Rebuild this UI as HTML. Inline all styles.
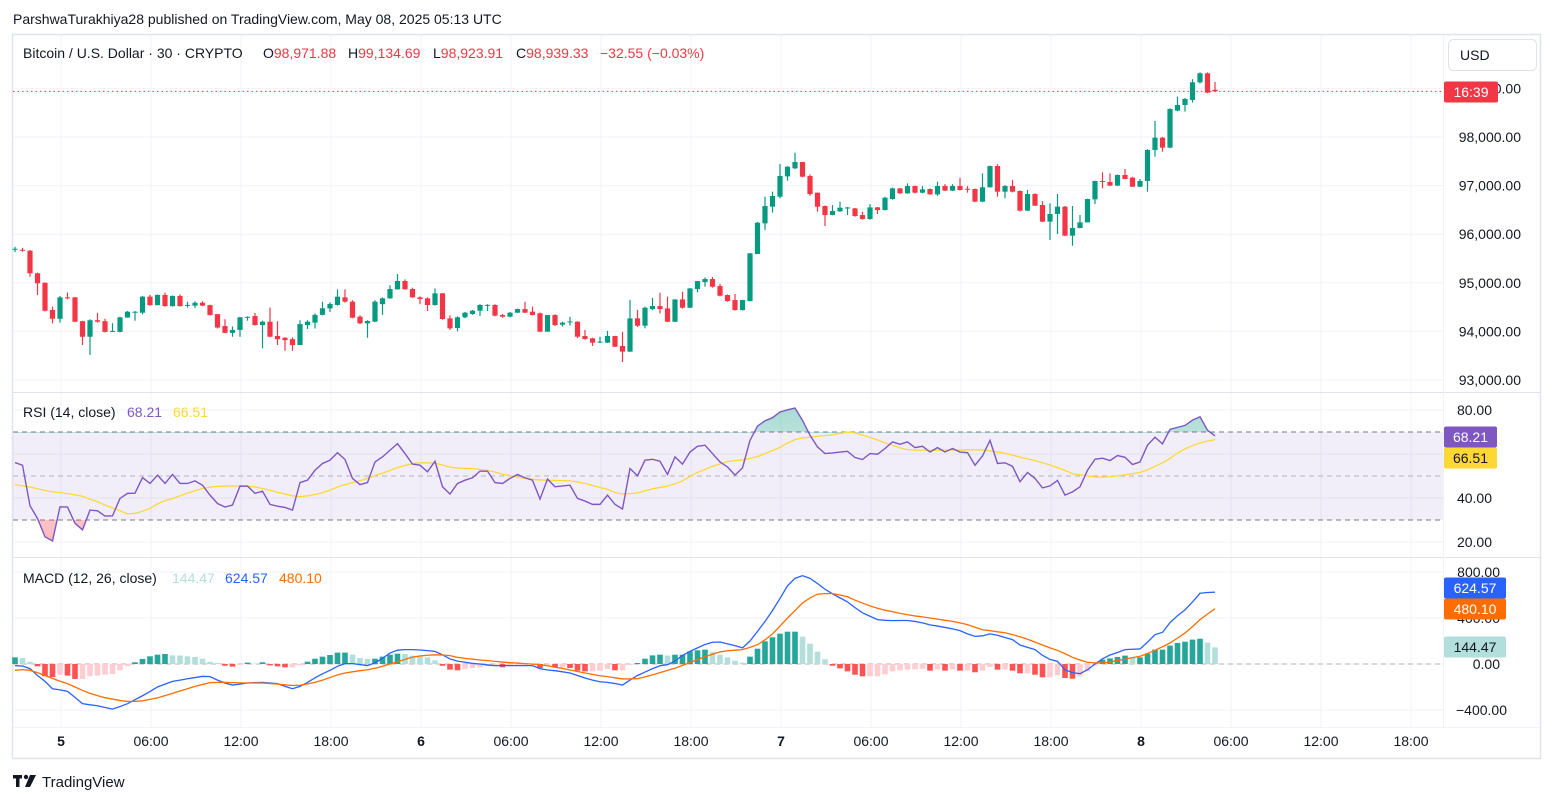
<!DOCTYPE html>
<html><head><meta charset="utf-8">
<style>
html,body{margin:0;padding:0;background:#fff;}
svg{display:block;font-family:"Liberation Sans",sans-serif;}
</style></head>
<body>
<svg id="chart" width="1553" height="803" viewBox="0 0 1553 803" xmlns="http://www.w3.org/2000/svg">
<defs>
<linearGradient id="obGrad" x1="0" y1="0" x2="0" y2="1"><stop offset="0" stop-color="#089981" stop-opacity="0.35"/><stop offset="1" stop-color="#089981" stop-opacity="0"/></linearGradient>
<linearGradient id="osGrad" x1="0" y1="1" x2="0" y2="0"><stop offset="0" stop-color="#f23645" stop-opacity="0.35"/><stop offset="1" stop-color="#f23645" stop-opacity="0"/></linearGradient>
<clipPath id="clipOB"><rect x="12" y="393" width="1431" height="39.8"/></clipPath>
<clipPath id="clipOS"><rect x="12" y="520" width="1431" height="37"/></clipPath>
</defs>
<text x="13" y="24" font-size="14" fill="#131722">ParshwaTurakhiya28 published on TradingView.com, May 08, 2025 05:13 UTC</text>
<rect x="12.5" y="34.5" width="1528" height="724" fill="none" stroke="#e0e3eb" stroke-width="1.5"/>
<g id="grid"></g>
<rect x="13" y="432" width="1430" height="88" fill="#7e57c2" fill-opacity="0.1"/>
<g id="rsiLevels"></g>
<g id="candles"></g>
<g id="rsi"></g>
<g id="macd"></g>
<line x1="13" y1="392.5" x2="1540" y2="392.5" stroke="#e0e3eb"/>
<line x1="13" y1="557.5" x2="1540" y2="557.5" stroke="#e0e3eb"/>
<line x1="13" y1="727.5" x2="1540" y2="727.5" stroke="#f0f3fa"/>
<line x1="1443.5" y1="35" x2="1443.5" y2="728" stroke="#f0f3fa"/>
<g id="axes"></g>
<g font-size="14">
<text x="23" y="58" fill="#131722">Bitcoin / U.S. Dollar · 30 · CRYPTO</text>
<text x="263" y="58" fill="#131722">O<tspan fill="#f23645">98,971.88</tspan></text>
<text x="348" y="58" fill="#131722">H<tspan fill="#f23645">99,134.69</tspan></text>
<text x="433" y="58" fill="#131722">L<tspan fill="#f23645">98,923.91</tspan></text>
<text x="516" y="58" fill="#131722">C<tspan fill="#f23645">98,939.33</tspan></text>
<text x="600" y="58" fill="#f23645">−32.55 (−0.03%)</text>
</g>
<g font-size="14">
<text x="23" y="417" fill="#131722">RSI (14, close)</text>
<text x="127" y="417" fill="#7e57c2">68.21</text>
<text x="173" y="417" fill="#fdd835">66.51</text>
</g>
<g font-size="14">
<text x="23" y="583" fill="#131722">MACD (12, 26, close)</text>
<text x="172" y="583" fill="#b2dfdb">144.47</text>
<text x="225" y="583" fill="#2962ff">624.57</text>
<text x="279" y="583" fill="#ff6d00">480.10</text>
</g>
<rect x="1448.5" y="39.5" width="88" height="31" rx="5" fill="#fff" stroke="#e0e3eb"/>
<text x="1460" y="60" font-size="14" fill="#131722">USD</text>
<g>
<rect x="13" y="775" width="9" height="3.5" fill="#131722"/>
<rect x="16" y="775" width="3.5" height="12" fill="#131722"/>
<circle cx="26" cy="777" r="2.2" fill="#131722"/>
<polygon points="30,775 36,775 30,787 25,787" fill="#131722"/>
<text x="42" y="787" font-size="15" fill="#131722">TradingView</text>
</g>
</svg>
<script>
const opens=[95690,95680,95660,95195,95000,94440,94260,94700,94700,94210,93890,94230,94210,94000,93990,94285,94400,94385,94715,94540,94750,94520,94730,94540,94530,94590,94540,94355,94110,93970,94030,94290,94315,94130,94200,93905,93870,93840,93720,94130,94180,94340,94474,94543,94700,94612,94303,94166,94200,94560,94680,94865,95037,94872,94700,94680,94543,94783,94268,94070,94290,94358,94426,94543,94543,94337,94303,94385,94460,94406,94372,93994,94337,94138,94200,94200,93905,93857,93788,93768,93905,93700,93583,94268,94117,94460,94522,94473,94199,94658,94487,94871,95014,95077,94933,94748,94645,94439,94624,95592,96223,96566,96772,97190,97355,97485,97197,96854,96580,96394,96470,96545,96531,96394,96312,96552,96497,96724,96943,96840,96991,96854,96930,96820,96992,96896,96992,96935,96930,96670,96965,97403,96875,96992,96889,96484,96827,96601,96258,96416,96567,95970,96128,96244,96717,97095,97075,97000,97218,97163,96978,97095,97733,97986,97781,98543,98659,98762,99125,99311,98971];
const closes=[95700,95675,95195,94990,94425,94260,94700,94690,94200,93890,94230,94200,93990,94010,94290,94405,94405,94715,94540,94750,94520,94730,94520,94545,94590,94530,94335,94080,93970,94030,94290,94300,94130,94200,93890,93840,93820,93720,94150,94200,94340,94475,94563,94714,94612,94282,94166,94214,94612,94680,94872,95037,94865,94700,94666,94543,94783,94255,94063,94290,94385,94426,94543,94545,94324,94303,94385,94460,94385,94337,93994,94337,94131,94180,94205,93891,93843,93768,93790,93905,93685,93583,94268,94117,94487,94522,94460,94199,94658,94487,94885,95036,95077,94919,94734,94624,94439,94645,95606,96237,96580,96786,97197,97389,97485,97183,96827,96566,96394,96477,96545,96550,96374,96312,96552,96497,96751,96943,96840,96991,96854,96922,96820,96992,96896,96992,96910,96930,96670,96965,97403,96875,96992,96875,96484,96827,96587,96258,96416,96567,95970,96128,96244,96724,97095,97075,97000,97218,97136,96978,97095,97733,97986,97781,98577,98659,98782,99125,99311,98913,98939];
const highs=[95740,95720,95675,95210,95010,94510,94730,94800,94710,94220,94250,94380,94260,94170,94300,94420,94420,94730,94750,94760,94800,94740,94760,94610,94620,94620,94550,94360,94250,94100,94300,94310,94380,94220,94490,94210,93880,93880,94230,94230,94370,94610,94600,94865,94865,94640,94330,94230,94640,94700,94950,95180,95070,94900,94720,94700,94885,94790,94330,94310,94400,94440,94560,94560,94560,94360,94400,94470,94610,94510,94390,94340,94350,94200,94300,94210,94030,93870,93890,94010,93910,93990,94650,94440,94508,94690,94795,94714,94660,94817,94890,95040,95110,95120,94980,94760,94770,94650,95610,96250,96772,96875,97444,97400,97677,97490,97230,96860,96590,96600,96670,96560,96540,96463,96621,96560,96770,96960,96950,97046,97000,96990,96940,97080,97030,97030,97160,96990,96940,97252,97410,97440,97010,97115,96900,96910,96840,96680,96635,96827,96580,96580,96395,96730,97100,97273,97253,97230,97342,97180,97136,97750,98330,98000,98590,98830,98800,99190,99330,99330,99135];
const lows=[95630,95640,95125,94750,94410,94165,94180,94660,94190,93720,93515,94180,93980,93990,93980,94280,94220,94350,94530,94540,94510,94510,94510,94490,94480,94520,94330,94060,93960,93890,93890,94220,94120,93650,93880,93720,93600,93600,93720,94050,94060,94330,94400,94530,94590,94270,94150,93870,94190,94340,94670,94860,94860,94690,94560,94420,94530,94240,94030,94000,94270,94340,94320,94420,94310,94280,94290,94380,94380,94330,93990,93990,94110,94100,94120,93860,93830,93700,93760,93760,93680,93370,93580,94090,94063,94440,94371,94190,94190,94470,94480,94803,94920,94900,94720,94610,94430,94430,94620,95590,96086,96443,96738,97101,97340,97170,96790,96463,96168,96390,96460,96395,96360,96300,96300,96415,96490,96710,96830,96830,96840,96840,96810,96790,96890,96890,96900,96855,96660,96660,96960,96772,96738,96860,96470,96480,96580,96250,95880,96004,95960,95764,96120,96240,96621,96944,96990,96990,97130,96970,96970,96875,97596,97698,97770,98530,98522,98707,99100,98900,98924];
const rsiValues=[56.1,54.9,36.5,30.7,22.4,20.5,36,35.9,28.5,25.5,34.5,34.2,31.8,31.9,39.8,42.1,42.2,49.3,46.6,50.4,46.6,50.7,46.6,46.6,47.8,45.8,41.3,37.5,35.9,36.8,45.4,45.4,42.1,43.1,37.1,36.3,35.7,34.5,47,48.1,52.6,55.7,57.2,60.6,57.5,48.9,46.1,47,56.4,58.7,61.7,64.7,60.2,55.4,54.9,51.9,56.7,45.1,41.8,46.6,48.1,49.2,52.2,52.2,47,46.6,48.9,50.7,49.2,48.1,39.5,48.6,45.1,45.5,45.8,39.8,38.6,37.1,37.1,41.3,37.1,35,53.4,50.1,57.2,57.6,56.7,50.7,58.7,55.4,60.9,63.5,64,60.2,56.4,54.1,50.4,53.7,66.2,72.7,75.1,76.5,79.1,80.1,80.9,75.3,68.5,63.2,60.2,60.5,60.9,61.2,58.4,57.5,60.2,59.9,62.5,65.5,64.4,65.5,62.9,63.5,60.9,62.9,60.9,62.5,60.9,60.6,54.9,59.1,66.2,55.7,56,54.4,47.4,51.6,48.9,44.6,45.5,48,41.3,42.8,45.1,52.6,57.6,58.1,57,59.3,58.5,55.2,56.4,64,67.6,64.6,71.2,72.1,73,75.4,76.9,70.8,68.21];
const rsiSignal=[46.1,45.5,45,44.2,43.4,42.8,42.5,42,41.4,40.8,39.5,38.3,36.8,35.5,34.2,32.8,33,34,35.3,37.3,38.8,39.7,41,42.2,43.3,44.3,44.9,45.3,45.4,45.5,45.4,45.4,45,44.3,43.5,42.6,41.8,41,40.6,41,41.6,42.4,43.6,45,46.1,47,47.8,49,50.2,51.3,52.5,53.8,54.8,55.6,56,56,55.8,55,54,53.6,53.4,53.4,53,52.5,51.8,50.8,50.1,49.5,48.9,48.5,48.2,48.1,48,47.9,47.8,47.3,46.6,45.7,44.8,44,42.5,41.8,42,42.3,43.3,44.2,44.8,45.4,46.4,47.8,49.8,51.6,53,54.4,55.5,56.6,57,57.3,58,58.8,60.2,61.6,63,65,66.6,67.3,67.6,68,68.4,68.7,69.4,70,69.6,68.6,67.5,66.4,65,64,62.8,62,61.8,61.7,61.7,61.7,61.8,61.8,61.8,61.9,61.9,61.8,61.4,60.9,60.3,59.5,58.6,57.8,57,56,55,53.8,52.5,51.1,50.5,50,49.6,49.5,49.7,50,50.5,51.1,51.6,52.8,54.4,56,58,60.5,62.3,63.9,65,65.9,66.51];
const macdLine=[-14,-18,-40,-100,-151,-215,-225,-238,-290,-345,-355,-363,-378,-392,-370,-345,-310,-276,-240,-200,-175,-151,-140,-128,-118,-107,-110,-140,-165,-183,-175,-165,-162,-160,-165,-171,-195,-215,-195,-160,-120,-85,-55,-20,3,3,-5,-14,10,50,95,120,125,125,122,116,110,80,44,25,15,5,0,-8,-14,-14,-14,-14,-14,-14,-40,-52,-58,-68,-78,-100,-122,-140,-154,-160,-170,-183,-140,-100,-70,-40,-15,-6,25,75,110,140,170,189,191,175,160,140,200,284,370,465,570,680,745,768,745,700,650,610,575,540,490,445,415,386,380,377,378,378,370,358,340,330,318,305,290,262,240,245,262,250,230,212,165,145,125,75,40,23,-50,-75,-84,-50,0,45,78,100,125,128,131,190,255,275,360,420,470,540,615,622,624.57];
const signalLine=[-55,-49,-55,-75,-100,-125,-150,-171,-200,-230,-255,-275,-293,-305,-318,-325,-325,-320,-308,-295,-275,-255,-235,-215,-195,-178,-162,-160,-160,-162,-164,-165,-165,-165,-170,-175,-181,-187,-185,-173,-160,-140,-118,-95,-78,-68,-58,-50,-37,-20,0,20,40,60,70,76,80,78,73,58,49,42,35,29,23,17,12,8,3,-1,-5,-15,-28,-38,-52,-65,-78,-90,-102,-110,-120,-130,-130,-128,-112,-95,-75,-55,-37,-12,12,38,63,85,105,115,120,125,145,168,210,262,330,400,465,530,575,608,612,612,600,585,555,530,505,485,467,455,440,428,418,410,400,390,380,371,358,342,320,298,290,280,272,255,237,215,190,165,140,118,90,58,35,15,10,9,18,30,42,55,67,92,119,150,183,225,270,325,386,435,480.10];
const histValues=[58,52,20,-20,-107,-113,-93,-101,-130,-130,-107,-101,-93,-87,-55,-20,15,44,67,81,87,75,73,67,61,46,20,9,-15,-23,-9,12,3,15,-12,-20,-29,-29,-12,20,46,64,78,99,99,81,52,44,46,64,81,90,87,73,67,58,32,-15,-49,-55,-43,-35,-29,-20,-20,-29,-20,-15,-15,-6,-35,-20,-29,-29,-35,-58,-64,-64,-58,-43,-55,-55,-9,9,46,75,81,73,81,81,110,119,125,104,81,58,29,12,64,133,197,232,264,281,281,238,177,107,41,-15,-38,-64,-93,-107,-107,-107,-90,-64,-55,-49,-46,-43,-58,-49,-58,-49,-58,-58,-72,-58,-26,-49,-49,-58,-81,-81,-93,-116,-116,-99,-122,-128,-107,-64,-15,38,49,61,73,58,58,90,125,125,160,183,194,212,220,186,144.47];
const priceTicks=[93000,94000,95000,96000,97000,98000,99000];
const rsiTicks=[20,40,80];
const macdTicks=[-400,0,400,800];
const timeLabels=["5","06:00","12:00","18:00","6","06:00","12:00","18:00","7","06:00","12:00","18:00","8","06:00","12:00","18:00"];
const boldTime=["5","6","7","8"];

const NS="http://www.w3.org/2000/svg";
function mk(tag,attrs,parent){const e=document.createElementNS(NS,tag);for(const k in attrs)e.setAttribute(k,attrs[k]);parent.appendChild(e);return e;}
const xOf=i=>15+7.5*i;
const yPrice=p=>137-(p-98000)*0.0486;
const yRsi=v=>410+(80-v)*2.2;
const yMacd=v=>664-v*0.115;
const timeX=k=>61+90*k;

const grid=document.getElementById('grid');
const axes=document.getElementById('axes');
timeLabels.forEach((t,k)=>{
  const l=mk('line',{x1:timeX(k),x2:timeX(k),y1:35,y2:727,stroke:'#f0f3fa'},grid);
  
  
  const tx=mk('text',{x:timeX(k),y:746,'font-size':14,fill:'#131722','text-anchor':'middle','font-weight':boldTime.includes(t)?'bold':'normal'},axes);
  tx.textContent=t;
  
  
});
priceTicks.forEach(p=>{
  const y=yPrice(p);
  const l=mk('line',{x1:13,x2:1443,y1:y,y2:y,stroke:'#f0f3fa'},grid);
  
  
  const tx=mk('text',{x:1521,y:y+5,'font-size':14,fill:'#131722','text-anchor':'end'},axes);
  tx.textContent=p.toLocaleString('en-US',{minimumFractionDigits:2});
  
  
});
rsiTicks.concat([60]).forEach(v=>{
  const y=yRsi(v);
  const l=mk('line',{x1:13,x2:1443,y1:y,y2:y,stroke:'#f0f3fa'},grid);
  
  
});
rsiTicks.forEach(v=>{
  const tx=mk('text',{x:1492,y:yRsi(v)+5,'font-size':14,fill:'#131722','text-anchor':'end'},axes);
  tx.textContent=v.toFixed(2);
  
  
});
macdTicks.forEach(v=>{
  const y=yMacd(v);
  const l=mk('line',{x1:13,x2:1443,y1:y,y2:y,stroke:'#f0f3fa'},grid);
  
  
  const tx=mk('text',{x:v<0?1507:1500,y:y+5,'font-size':14,fill:'#131722','text-anchor':'end'},axes);
  tx.textContent=(v<0?'−':'')+Math.abs(v).toFixed(2);
  
  
});
const lv=document.getElementById('rsiLevels');
[[70,'#787b86'],[50,'#b2b5be'],[30,'#787b86']].forEach(([v,c])=>{
  const y=yRsi(v);
  const l=mk('line',{x1:13,x2:1443,y1:y,y2:y,stroke:c,'stroke-dasharray':'5,4'},lv);
  
  
});
const z=mk('line',{x1:13,x2:1443,y1:yMacd(0),y2:yMacd(0),stroke:'#b2b5be','stroke-dasharray':'5,4'},grid);



const cy=yPrice(closes[closes.length-1]);
const pl=mk('line',{x1:13,x2:1443,y1:cy,y2:cy,stroke:'#f23645','stroke-dasharray':'1.5,3'},axes);



const cg=document.getElementById('candles');
closes.forEach((c,i)=>{
  const o=opens[i],x=xOf(i),up=c>=o,col=up?'#089981':'#f23645';
  const w=mk('line',{x1:x,x2:x,y1:yPrice(highs[i]),y2:yPrice(lows[i]),stroke:col,'stroke-width':1.2},cg);
  
  
  const top=yPrice(Math.max(o,c)),bot=yPrice(Math.min(o,c));
  const b=mk('rect',{x:x-2.6,y:top,width:5.2,height:Math.max(1,bot-top),fill:col},cg);
  
  
});

const rg=document.getElementById('rsi');
const rsiPts=rsiValues.map((v,i)=>xOf(i)+','+yRsi(v)).join(' ');
const last=xOf(rsiValues.length-1);
const ob=mk('polygon',{points:xOf(0)+','+yRsi(70)+' '+rsiPts+' '+last+','+yRsi(70),fill:'url(#obGrad)','clip-path':'url(#clipOB)'},rg);


const os=mk('polygon',{points:xOf(0)+','+yRsi(30)+' '+rsiPts+' '+last+','+yRsi(30),fill:'url(#osGrad)','clip-path':'url(#clipOS)'},rg);


const sl=mk('polyline',{points:rsiSignal.map((v,i)=>xOf(i)+','+yRsi(v)).join(' '),fill:'none',stroke:'#fdd835','stroke-width':1.3},rg);


const rl=mk('polyline',{points:rsiPts,fill:'none',stroke:'#7e57c2','stroke-width':1.4},rg);



const mg=document.getElementById('macd');
histValues.forEach((v,i)=>{
  const prev=i>0?histValues[i-1]:v;
  const col=v>=0?(v>=prev?'#26a69a':'#b2dfdb'):(v<prev?'#ff5252':'#ffcdd2');
  const y0=yMacd(0),y1=yMacd(v);
  const r=mk('rect',{x:xOf(i)-2.8,y:Math.min(y0,y1),width:5.6,height:Math.abs(y1-y0),fill:col},mg);
  
  
});
const ml=mk('polyline',{points:macdLine.map((v,i)=>xOf(i)+','+yMacd(v)).join(' '),fill:'none',stroke:'#2962ff','stroke-width':1.3},mg);


const sg=mk('polyline',{points:signalLine.map((v,i)=>xOf(i)+','+yMacd(v)).join(' '),fill:'none',stroke:'#ff6d00','stroke-width':1.3},mg);



function badge(name,y,w,bg,fg,txt){
  const g=mk('g',{},axes);
  
  
  mk('rect',{x:1444,y:y-10.5,width:w,height:21,fill:bg,rx:2},g);
  const t=mk('text',{x:1444+w/2,y:y+5,'font-size':14,fill:fg,'text-anchor':'middle'},g);
  t.textContent=txt;
}
badge('countdown-badge',92,54,'#f23645','#fff','16:39');
badge('rsi-value-badge',437,53,'#7e57c2','#fff',rsiValues[rsiValues.length-1].toFixed(2));
badge('rsi-ma-value-badge',458,53,'#fdd835','#131722',rsiSignal[rsiSignal.length-1].toFixed(2));
badge('macd-value-badge',588,62,'#2962ff','#fff',macdLine[macdLine.length-1].toFixed(2));
badge('signal-value-badge',609,62,'#ff6d00','#fff',signalLine[signalLine.length-1].toFixed(2));
badge('histogram-value-badge',647,62,'#b2dfdb','#131722',histValues[histValues.length-1].toFixed(2));
</script>
</body></html>
